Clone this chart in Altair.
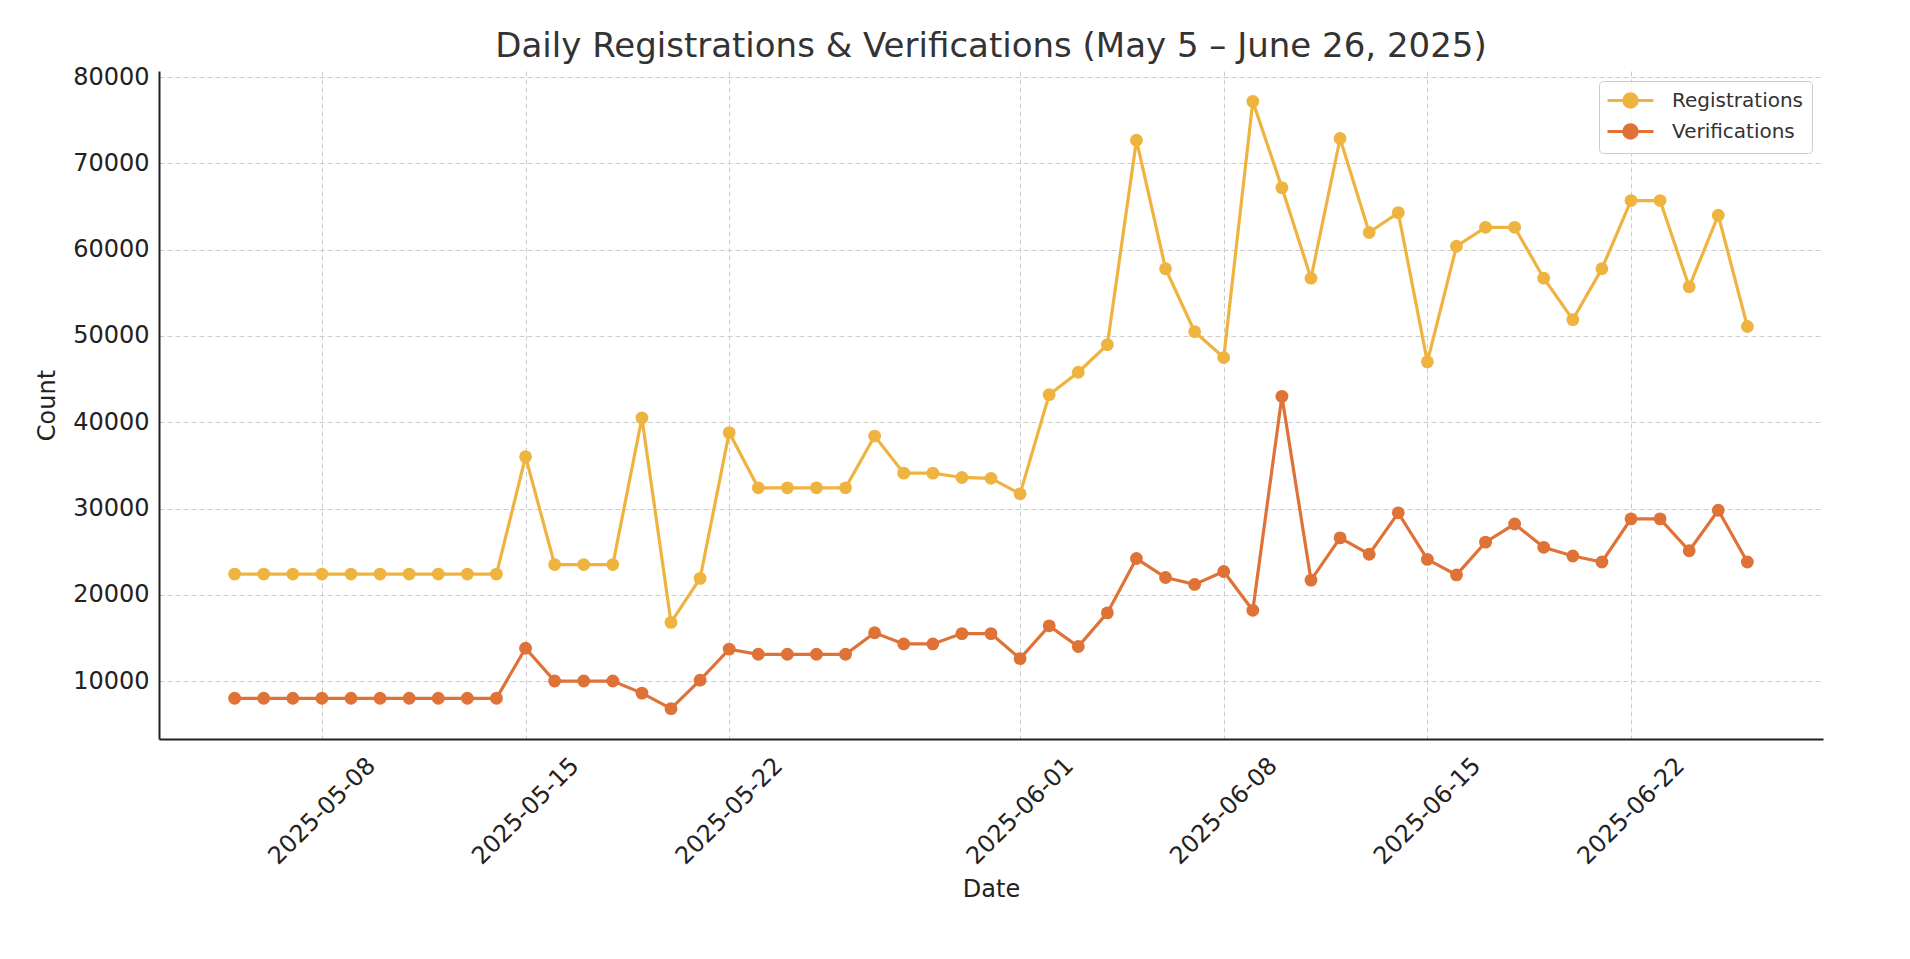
import altair as alt
import pandas as pd

dates = pd.date_range("2025-05-05", "2025-06-26", freq="D").strftime("%Y-%m-%d").tolist()

registrations = [
    22400, 22400, 22400, 22400, 22400, 22400, 22400, 22400, 22400, 22400,
    36000, 23500, 23500, 23500, 40500, 16800, 21900, 38800,
    32400, 32400, 32400, 32400, 38400, 34100, 34100, 33600, 33500,
    31700, 43200, 45800, 49000, 72700, 57800, 50500, 47500, 77200, 67200,
    56700, 72900, 62000, 64300, 47000, 60400, 62600, 62600, 56700, 51900,
    57800, 65700, 65700, 55700, 64000, 51100,
]

verifications = [
    8000, 8000, 8000, 8000, 8000, 8000, 8000, 8000, 8000, 8000,
    13800, 10000, 10000, 10000, 8600, 6800, 10100, 13700,
    13100, 13100, 13100, 13100, 15600, 14300, 14300, 15500, 15500,
    12600, 16400, 14000, 17900, 24200, 22000, 21200, 22700, 18200, 43000,
    21700, 26600, 24700, 29500, 24100, 22300, 26100, 28200, 25500, 24500,
    23800, 28800, 28800, 25100, 29800, 23800,
]

series_names = ["Registrations", "Verifications"]
series_colors = ["#EFB440", "#DF7237"]

y_ticks = [10000, 20000, 30000, 40000, 50000, 60000, 70000, 80000]
x_tick_days = [(5, 8), (5, 15), (5, 22), (6, 1), (6, 8), (6, 15), (6, 22)]

df = pd.concat([
    pd.DataFrame({"Date": dates, "Count": registrations, "Series": series_names[0]}),
    pd.DataFrame({"Date": dates, "Count": verifications, "Series": series_names[1]}),
])

x_values = [alt.DateTime(year=2025, month=m, date=d, utc=True) for m, d in x_tick_days]

legend_path = "M-2.3,0L2.3,0M0.68,0A0.68,0.68,0,1,1,-0.68,0A0.68,0.68,0,1,1,0.68,0Z"

base = alt.Chart(df).encode(
    x=alt.X(
        "Date:T",
        title="Date",
        scale=alt.Scale(
            type="utc",
            domain=[
                alt.DateTime(year=2025, month=5, date=2, hours=9, minutes=36, utc=True),
                alt.DateTime(year=2025, month=6, date=28, hours=14, minutes=24, utc=True),
            ],
        ),
        axis=alt.Axis(
            values=x_values,
            format="%Y-%m-%d",
            labelAngle=315,
            labelAlign="center",
            labelBaseline="middle",
            labelPadding=72,
            labelFlush=False,
            labelOverlap=False,
            labelBound=False,
            ticks=False,
            titlePadding=9,
        ),
    ),
    y=alt.Y(
        "Count:Q",
        title="Count",
        scale=alt.Scale(domain=[3280, 80720], nice=False, zero=False),
        axis=alt.Axis(
            values=y_ticks,
            format="d",
            ticks=False,
            labelPadding=10,
            titlePadding=13,
        ),
    ),
    color=alt.Color(
        "Series:N",
        scale=alt.Scale(domain=series_names, range=series_colors),
        legend=alt.Legend(
            title=None,
            orient="none",
            legendX=1440,
            legendY=10,
            symbolType=legend_path,
            symbolSize=400,
            symbolStrokeWidth=3,
            symbolOffset=12,
            symbolOpacity=1,
            labelOffset=30,
            rowPadding=4,
            padding=8,
            fillColor="rgba(255,255,255,0.8)",
            strokeColor="#cccccc",
            cornerRadius=4,
            labelFont="DejaVu Sans",
            labelFontSize=20,
            labelColor="#333333",
        ),
    ),
)

lines = base.mark_line(strokeWidth=3.2)
points = base.mark_point(filled=True, size=165, opacity=1)

chart = alt.layer(lines, points).properties(
    width=1664,
    height=668,
    background="white",
    title=alt.TitleParams(
        "Daily Registrations & Verifications (May 5 – June 26, 2025)",
        font="DejaVu Sans",
        fontSize=34,
        fontWeight="normal",
        color="#333333",
        anchor="middle",
        offset=1,
    ),
    autosize=alt.AutoSizeParams(type="none"),
    padding={"left": 151, "top": 63, "right": 60, "bottom": 200},
).configure_view(
    stroke=None,
).configure_axis(
    labelFont="DejaVu Sans",
    titleFont="DejaVu Sans",
    labelFontSize=24,
    titleFontSize=24,
    labelColor="#222222",
    titleColor="#222222",
    titleFontWeight="normal",
    domainColor="#222222",
    domainWidth=2,
    gridColor="#cccccc",
    gridDash=[5, 3],
    gridWidth=1,
)

chart.save("out.html", embed_options={"renderer": "svg", "actions": False})
